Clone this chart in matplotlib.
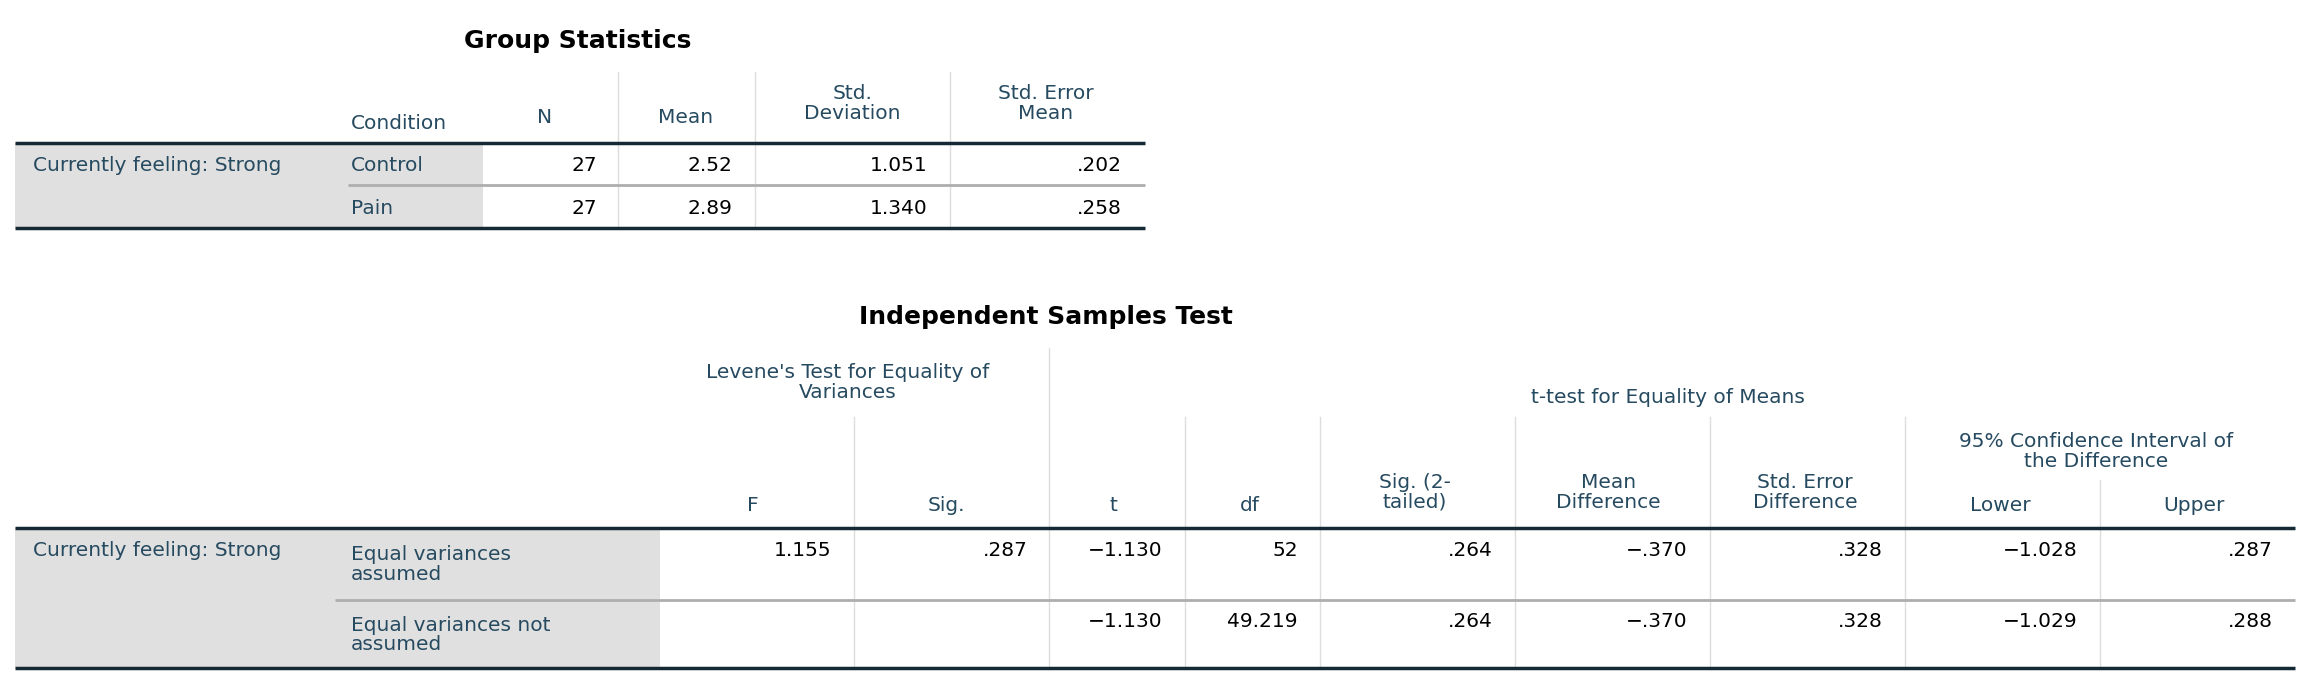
import matplotlib
matplotlib.use("Agg")
import matplotlib.pyplot as plt

# ---- data ----
gs_title = "Group Statistics"
gs_headers = ["Condition", "N", "Mean", "Std.\nDeviation", "Std. Error\nMean"]
gs_rowlabel = "Currently feeling: Strong"
gs_conditions = ["Control", "Pain"]
gs_N = ["27", "27"]
gs_mean = ["2.52", "2.89"]
gs_sd = ["1.051", "1.340"]
gs_se = [".202", ".258"]

it_title = "Independent Samples Test"
it_group1 = "Levene's Test for Equality of\nVariances"
it_group2 = "t-test for Equality of Means"
it_group3 = "95% Confidence Interval of\nthe Difference"
it_cols = ["F", "Sig.", "t", "df", "Sig. (2-\ntailed)", "Mean\nDifference",
           "Std. Error\nDifference", "Lower", "Upper"]
it_rowlabel = "Currently feeling: Strong"
it_rows = ["Equal variances\nassumed", "Equal variances not\nassumed"]
it_vals = [["1.155", ".287", "\u22121.130", "52", ".264", "\u2212.370", ".328", "\u22121.028", ".287"],
           ["", "", "\u22121.130", "49.219", ".264", "\u2212.370", ".328", "\u22121.029", ".288"]]

# ---- style ----
plt.rcParams['font.family'] = ['DejaVu Sans']
HDR = "#264a60"
DARK = "#152935"
GRAY = "#e0e0e0"
SEP = "#aeaeae"
VL = "#dddddd"
FS = 14.5

fig = plt.figure(figsize=(23.18, 6.92), dpi=100)
ax = fig.add_axes([0, 0, 1, 1])
ax.set_xlim(0, 1545)
ax.set_ylim(461, 0)
ax.axis("off")

def hl(y, x0, x1, c, lw):
    ax.plot([x0, x1], [y, y], color=c, lw=lw, solid_capstyle="butt")

def vl(x, y0, y1):
    ax.plot([x, x], [y0, y1], color=VL, lw=1)

def t(x, y, s, ha="left", c=HDR, **kw):
    ax.text(x, y, s, ha=ha, va="center", color=c, fontsize=FS, linespacing=1.05, **kw)

# ===== Group Statistics =====
ax.text(385, 27, gs_title, ha="center", va="center", fontsize=18, fontweight="bold", color="black")
ax.add_patch(plt.Rectangle((10, 95), 312, 57, color=GRAY, lw=0))
for x in [412, 503, 633]:
    vl(x, 48, 152)
hl(95, 10, 763, DARK, 2.5)
hl(123.5, 232, 763, SEP, 2)
hl(152, 10, 763, DARK, 2.5)
t(234, 82, gs_headers[0])
t(363, 78, gs_headers[1], ha="center")
t(457, 78, gs_headers[2], ha="center")
t(568, 69, gs_headers[3], ha="center")
t(697, 69, gs_headers[4], ha="center")
t(22, 110, gs_rowlabel)
for i, y in enumerate([110, 139]):
    t(234, y, gs_conditions[i])
    for x, col in zip([398, 488, 618, 748], [gs_N, gs_mean, gs_sd, gs_se]):
        t(x, y, col[i], ha="right", c="black")

# ===== Independent Samples Test =====
ax.text(697, 211, it_title, ha="center", va="center", fontsize=18, fontweight="bold", color="black")
ax.add_patch(plt.Rectangle((10, 352), 430, 93, color=GRAY, lw=0))
vl(699, 232, 445)
for x in [569, 790, 880, 1010, 1140, 1270]:
    vl(x, 278, 445)
vl(1400, 320, 445)
hl(352, 10, 1530, DARK, 2.5)
hl(399.5, 223, 1530, SEP, 2)
hl(445, 10, 1530, DARK, 2.5)
t(565, 255, it_group1, ha="center")
t(1112, 265, it_group2, ha="center")
t(1397, 301, it_group3, ha="center")
centers = [502, 631, 742, 833, 943, 1072, 1203, 1333, 1462]
for cx, h in zip(centers, it_cols):
    t(cx, 328 if "\n" in h else 337, h, ha="center")
rights = [554, 685, 775, 865, 995, 1125, 1255, 1385, 1515]
t(22, 367, it_rowlabel)
for i, y in enumerate([367, 414]):
    t(234, y + 9, it_rows[i])
    for x, v in zip(rights, it_vals[i]):
        if v:
            t(x, y, v, ha="right", c="black")

fig.savefig("out.png", dpi=100, facecolor="white")
